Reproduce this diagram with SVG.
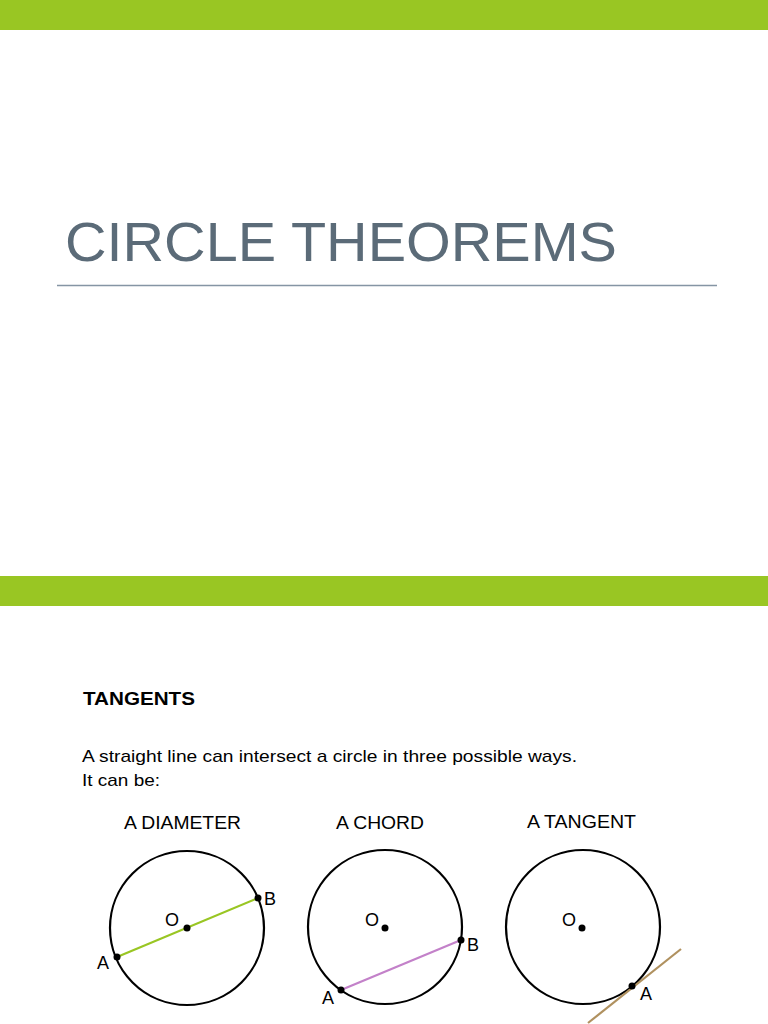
<svg xmlns="http://www.w3.org/2000/svg" width="768" height="1024" viewBox="0 0 768 1024">
<style>
.bar{fill:#99c623}
.t{font-family:"Liberation Sans",Arial,sans-serif;fill:#000}
.circ{fill:none;stroke:#000;stroke-width:2.2}
.dot{fill:#000}
.lbl{font-family:"Liberation Sans",Arial,sans-serif;font-size:18px;fill:#000}
.cap{font-family:"Liberation Sans",Arial,sans-serif;font-size:17.5px;fill:#000}
</style>
<rect width="768" height="1024" fill="#fff"/>
<rect class="bar" x="0" y="0" width="768" height="30"/>
<text x="65" y="261" font-family="Liberation Sans,Arial,sans-serif" font-size="56" fill="#5b6b78" textLength="552" lengthAdjust="spacingAndGlyphs">CIRCLE THEOREMS</text>
<line x1="57" y1="285.5" x2="717" y2="285.5" stroke="#8595a4" stroke-width="1.5"/>
<rect class="bar" x="0" y="576" width="768" height="30"/>
<text class="t" x="83" y="704.5" font-size="18.6" font-weight="bold" textLength="112" lengthAdjust="spacingAndGlyphs">TANGENTS</text>
<text class="t" x="82" y="762" font-size="17" textLength="495" lengthAdjust="spacingAndGlyphs">A straight line can intersect a circle in three possible ways.</text>
<text class="t" x="82" y="785.5" font-size="17" textLength="78" lengthAdjust="spacingAndGlyphs">It can be:</text>
<text class="cap" x="124" y="828.5" textLength="117" lengthAdjust="spacingAndGlyphs">A DIAMETER</text>
<text class="cap" x="336" y="828.5" textLength="88" lengthAdjust="spacingAndGlyphs">A CHORD</text>
<text class="cap" x="527" y="827.5" textLength="109" lengthAdjust="spacingAndGlyphs">A TANGENT</text>
<g id="diameter">
<circle class="circ" cx="187" cy="928" r="77"/>
<line x1="117" y1="957" x2="258" y2="898" stroke="#99c623" stroke-width="2.2"/>
<circle class="dot" cx="187" cy="928" r="3.5"/>
<circle class="dot" cx="117" cy="957" r="3.5"/>
<circle class="dot" cx="258" cy="898" r="3.5"/>
<text class="lbl" x="165" y="926">O</text>
<text class="lbl" x="97" y="969">A</text>
<text class="lbl" x="264" y="905">B</text>
</g>
<g id="chord">
<circle class="circ" cx="385" cy="927" r="77"/>
<line x1="341" y1="990" x2="461" y2="940" stroke="#c381c9" stroke-width="2.2"/>
<circle class="dot" cx="385" cy="928" r="3.5"/>
<circle class="dot" cx="341" cy="990" r="3.5"/>
<circle class="dot" cx="461" cy="940" r="3.5"/>
<text class="lbl" x="365" y="926">O</text>
<text class="lbl" x="322" y="1004">A</text>
<text class="lbl" x="467" y="951">B</text>
</g>
<g id="tangent">
<circle class="circ" cx="583" cy="927" r="77"/>
<line x1="588" y1="1023" x2="681" y2="949" stroke="#b0915f" stroke-width="2.2"/>
<circle class="dot" cx="582" cy="928" r="3.5"/>
<circle class="dot" cx="632" cy="986" r="3.5"/>
<text class="lbl" x="562" y="926">O</text>
<text class="lbl" x="640" y="1000">A</text>
</g>
</svg>
